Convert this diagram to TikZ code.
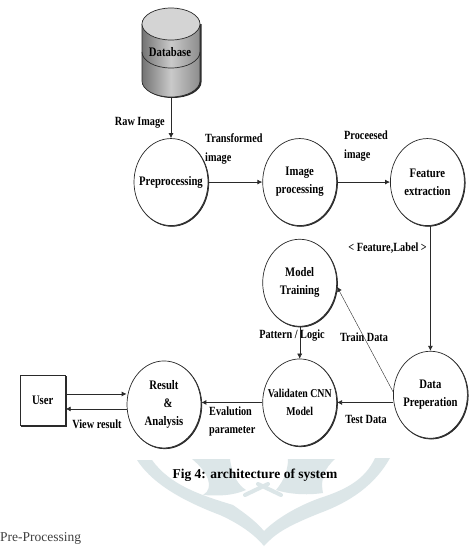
\documentclass[tikz,border=0pt]{standalone}
\usepackage{fontspec}
\setmainfont{Liberation Serif}
\newfontfamily\diagfont[FakeStretch=.82]{Liberation Serif}
\usepackage{tikz}
\usetikzlibrary{arrows.meta,positioning,shapes.geometric,shadows}
\definecolor{inkline}{HTML}{2A2A2A}
\definecolor{dbtop}{HTML}{D4D4D4}
\definecolor{dbbody}{HTML}{A6A6A6}
\definecolor{markfill}{HTML}{DCE6E8}
\tikzset{
  proc/.style={ellipse, draw=inkline, line width=.7pt, fill=white, minimum width=74pt,
               minimum height=87pt, inner sep=-12pt, align=center, font=\diagfont\bfseries\fontsize{13}{18}\selectfont,
               copy shadow={shadow xshift=.8pt, shadow yshift=-.8pt, draw=inkline, fill=inkline}},
  actor/.style={draw=inkline, line width=.9pt, fill=white, minimum width=45pt, minimum height=50pt,
               font=\diagfont\bfseries\fontsize{13}{18}\selectfont,
               copy shadow={shadow xshift=1pt, shadow yshift=-1pt, draw=inkline, fill=inkline}},
  store/.style={minimum width=58pt, minimum height=89pt, inner sep=0pt,
               font=\diagfont\bfseries\fontsize{13}{18}\selectfont},
  arrow/.style={-{Latex[length=5pt,width=5pt]}, line width=.8pt, draw=inkline},
  thinarr/.style={-{Latex[length=5pt,width=5pt]}, line width=.4pt, draw=inkline},
  lbl/.style={font=\diagfont\bfseries\fontsize{12.5}{18.5}\selectfont, align=left, inner sep=0pt}
}
\begin{document}
\begin{tikzpicture}[x=1pt,y=1pt]
  \path[use as bounding box, fill=white] (0,0) rectangle (474,-557);
  % watermark
  \fill[markfill] (137,-460) .. controls (150,-480) and (175,-498) .. (220,-515) .. controls (240,-524) and (255,-535) .. (264,-546)
    .. controls (275,-534) and (285,-527) .. (320,-513) .. controls (350,-502) and (375,-485) .. (390,-458)
    -- (375,-458) .. controls (365,-480) and (345,-490) .. (320,-498) .. controls (295,-507) and (275,-520) .. (264,-531)
    .. controls (255,-520) and (240,-510) .. (233,-505) .. controls (200,-495) and (170,-485) .. (152,-460) -- cycle;
  \fill[markfill] (192,-459) -- (230,-459) .. controls (232,-475) and (238,-485) .. (246,-490) .. controls (232,-496) and (218,-496) .. (203,-495) .. controls (215,-488) and (208,-472) .. cycle;
  \fill[markfill] (335,-459) -- (288,-459) .. controls (288,-475) and (280,-485) .. (276,-490) .. controls (292,-495) and (310,-495) .. (323,-493) .. controls (320,-478) and (325,-468) .. cycle;
  \draw[markfill, line width=4pt, line cap=round] (245,-495) -- (268,-484) (281,-495) -- (258,-484);

  \node[store] (db) at (171,-52.5) {};
  \fill[inkline] (143.5,-24) -- (201.5,-24) -- (201.5,-82) arc[start angle=0, end angle=-180, x radius=29, y radius=16] -- cycle;
  \draw[inkline, line width=.7pt, left color=black!55, right color=black!45, middle color=dbbody!60!white]
    (142,-24) -- (142,-81) arc[start angle=180, end angle=360, x radius=29, y radius=16] -- (200,-24);
  \draw[inkline, line width=.7pt, fill=dbtop] (171,-24) ellipse[x radius=29, y radius=16];
  \draw[inkline, line width=.7pt] (142,-52) arc[start angle=180, end angle=360, x radius=29, y radius=16];
  \node[font=\diagfont\bfseries\fontsize{13}{18}\selectfont] (dbname) at (170,-52) {Database};

  \node[proc, below=41pt of db] (pre) {Preprocessing};
  \node[proc, right=54pt of pre] (img) {Image\\processing};
  \node[proc, right=53pt of img] (feat) {Feature\\extraction};
  \node[proc, below=13pt of img] (train) {Model\\Training};
  \node[proc, below=32pt of train, font=\diagfont\bfseries\fontsize{12}{18}\selectfont] (valid) {Validaten CNN\\Model};
  \node[proc, below=125pt of feat, xshift=3pt] (data) {Data\\Preperation};
  \node[proc, left=61pt of valid, yshift=-2pt] (result) {Result\\\hspace*{8pt}\&\\Analysis};
  \node[actor, left=61pt of result, yshift=4.5pt] (user) {User};

  \node[lbl, left=6pt of db.south, yshift=-20pt, anchor=north east] (raw) {Raw Image};
  \node[lbl, anchor=west] (transformed) at (205,-149) {Transformed\\image};
  \node[lbl, anchor=west] (proceesed) at (344,-146) {Proceesed\\image};
  \node[lbl, anchor=east] (flabel) at (427,-248) {< Feature,Label >};
  \node[lbl, anchor=center] (pattern) at (292,-336) {Pattern / Logic};
  \node[lbl, anchor=center] (traindata) at (364,-337) {Train Data};
  \node[lbl, anchor=center] (testdata) at (366,-419) {Test Data};
  \node[lbl, anchor=west] (evalution) at (209,-421.5) {Evalution\\parameter};
  \node[lbl, anchor=center] (viewresult) at (97,-424) {View result};

  \node[font=\bfseries\fontsize{13.5}{16}\selectfont] (caption) at (255,-475) {Fig 4: architecture of system};
  \node[anchor=west, inner sep=0pt, text=black!75, font=\fontsize{13.5}{16}\selectfont] (sub) at (0,-538) {Pre-Processing};

  \draw[arrow] (db) -- (pre);
  \draw[arrow] (pre) -- (img);
  \draw[arrow] (img) -- (feat);
  \draw[arrow] (data.north |- feat.south) -- (data.north);
  \draw[thinarr] ([yshift=3pt]data.west) -- ([yshift=-4pt]train.east);
  \draw[arrow] (data.west |- valid.east) -- (valid.east);
  \draw[thinarr] (train) -- (valid);
  \draw[arrow] (valid) -- (result.east |- valid);
  \draw[arrow] ([yshift=6pt]user.east) -- ([yshift=10.5pt]result.west);
  \draw[arrow] ([yshift=-4.5pt]result.west) -- ([yshift=-9pt]user.east);
\end{tikzpicture}
\end{document}
